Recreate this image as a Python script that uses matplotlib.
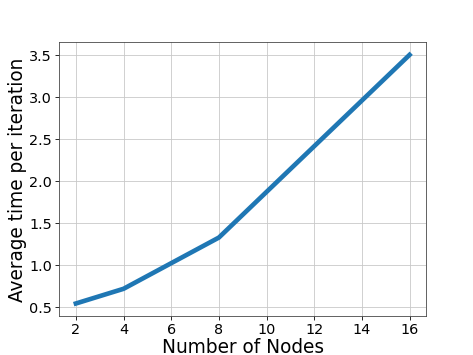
import matplotlib
matplotlib.use("Agg")
import matplotlib.pyplot as plt

nodes = [2, 4, 8, 16]
avg_time = [0.545, 0.72, 1.33, 3.505]

fig, ax = plt.subplots(figsize=(6.4, 4.8), dpi=74)
ax.plot(nodes, avg_time, color="#1f77b4", linewidth=4.5)
ax.set_xticks([2, 4, 6, 8, 10, 12, 14, 16])
ax.set_yticks([0.5, 1.0, 1.5, 2.0, 2.5, 3.0, 3.5])
ax.tick_params(labelsize=14)
ax.set_xlabel("Number of Nodes", fontsize=18, labelpad=1)
ax.set_ylabel("Average time per iteration", fontsize=18, labelpad=2)
ax.grid(True, color="#c8c8c8")
for s in ax.spines.values():
    s.set_color("#444444")

fig.savefig("out.png")
